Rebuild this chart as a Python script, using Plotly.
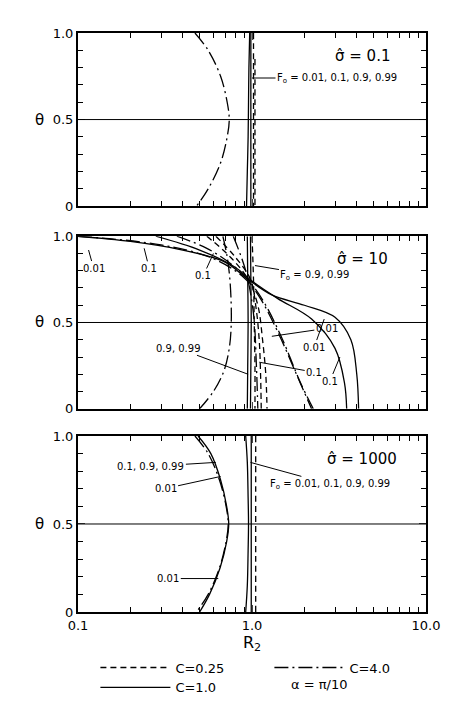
import plotly.graph_objects as go
import math

# ---- data (R2, theta) ----
# panel 1: sigma=0.1
p1_c4_r = [0.47, 0.56, 0.66, 0.72, 0.74, 0.72, 0.66, 0.56, 0.48]
p1_c4_t = [1.0, 0.9, 0.75, 0.6, 0.5, 0.4, 0.25, 0.1, 0.0]
p1_c1a_r = [0.97, 0.96, 0.955, 0.95, 0.94, 0.93]
p1_c1a_t = [1.0, 0.8, 0.6, 0.4, 0.2, 0.0]
p1_c1b_r = [0.985, 0.985, 0.985, 0.985]
p1_c1b_t = [1.0, 0.7, 0.3, 0.0]
p1_c025_r = [1.02, 1.02, 1.02, 1.02]
p1_c025_t = [1.0, 0.7, 0.3, 0.0]
p1_c025b_r = [1.04, 1.04, 1.04]
p1_c025b_t = [0.85, 0.4, 0.0]

# panel 2: sigma=10
p2_c4arc_r = [0.68, 0.72, 0.75, 0.76, 0.74, 0.69, 0.6, 0.5]
p2_c4arc_t = [1.0, 0.88, 0.72, 0.5, 0.35, 0.22, 0.1, 0.0]
p2_s001_r = [0.1, 0.2, 0.4, 0.7, 0.95, 1.3, 2.0, 3.0, 3.7, 4.0, 4.1]
p2_s001_t = [1.0, 0.97, 0.92, 0.85, 0.75, 0.66, 0.6, 0.53, 0.4, 0.2, 0.0]
p2_s01_r = [0.28, 0.5, 0.8, 1.0, 1.4, 2.2, 3.0, 3.4, 3.5]
p2_s01_t = [1.0, 0.92, 0.82, 0.74, 0.64, 0.52, 0.35, 0.15, 0.0]
p2_d001_r = [0.1, 0.3, 0.6, 0.9, 1.1, 1.4, 1.8, 2.2]
p2_d001_t = [1.0, 0.95, 0.87, 0.76, 0.65, 0.45, 0.2, 0.0]
p2_d01_r = [0.37, 0.55, 0.8, 1.0, 1.2, 1.5, 1.9, 2.25]
p2_d01_t = [1.0, 0.93, 0.82, 0.72, 0.6, 0.4, 0.15, 0.0]
p2_q001_r = [0.55, 0.75, 0.95, 1.08, 1.15, 1.2, 1.22]
p2_q001_t = [1.0, 0.88, 0.75, 0.6, 0.4, 0.2, 0.0]
p2_q01_r = [0.62, 0.8, 0.98, 1.05, 1.1, 1.12, 1.13]
p2_q01_t = [1.0, 0.88, 0.75, 0.6, 0.4, 0.2, 0.0]
p2_s09_r = [0.94, 0.945, 0.95, 0.945, 0.94]
p2_s09_t = [1.0, 0.75, 0.5, 0.25, 0.0]
p2_s099_r = [0.98, 0.985, 0.99, 0.985, 0.98]
p2_s099_t = [1.0, 0.75, 0.5, 0.25, 0.0]
p2_q09_r = [1.0, 1.02, 1.03, 1.04, 1.04]
p2_q09_t = [1.0, 0.75, 0.5, 0.25, 0.0]
p2_c409_r = [0.78, 0.92, 1.02, 1.06, 1.08]
p2_c409_t = [1.0, 0.8, 0.55, 0.25, 0.0]

# panel 3: sigma=1000
p3_c4_r = [0.47, 0.56, 0.65, 0.71, 0.73, 0.71, 0.65, 0.56, 0.48]
p3_c4_t = [1.0, 0.9, 0.75, 0.6, 0.5, 0.4, 0.25, 0.1, 0.0]
p3_c4b_r = [0.49, 0.58, 0.66, 0.715, 0.735, 0.715, 0.655, 0.57, 0.5]
p3_c4b_t = [1.0, 0.9, 0.75, 0.6, 0.5, 0.4, 0.25, 0.1, 0.0]
p3_s1_r = [0.92, 0.94, 0.95, 0.955, 0.95, 0.94, 0.92]
p3_s1_t = [1.0, 0.85, 0.65, 0.5, 0.35, 0.15, 0.0]
p3_s2_r = [0.99, 0.99, 0.99, 0.99]
p3_s2_t = [1.0, 0.7, 0.3, 0.0]
p3_q_r = [1.05, 1.05, 1.05, 1.05]
p3_q_t = [1.0, 0.7, 0.3, 0.0]

xticks = [0.1, 1.0, 10.0]
xticklabels = ["0.1", "1.0", "10.0"]
yticks = [0, 0.5, 1.0]
yticklabels = ["0", "0.5", "1.0"]

SOLID, DASH, DASHDOT = "solid", "6px,4px", "14px,4px,2px,4px"
fig = go.Figure()
shown = set()
RANK = {"C=0.25": 1, "C=4.0": 2, "C=1.0": 3}

def add(r, t, style, name, ax):
    sl = name not in shown
    shown.add(name)
    s = "" if ax == 1 else str(ax)
    fig.add_trace(go.Scatter(x=r, y=t, mode="lines", line=dict(color="black", width=1.3, dash=style, shape="spline"),
                             name=name, showlegend=sl, legendrank=RANK[name], xaxis="x" + s, yaxis="y" + s))

add(p1_c025_r, p1_c025_t, DASH, "C=0.25", 1)
add(p1_c4_r, p1_c4_t, DASHDOT, "C=4.0", 1)
add(p1_c1a_r, p1_c1a_t, SOLID, "C=1.0", 1)
add(p1_c1b_r, p1_c1b_t, SOLID, "C=1.0", 1)
add(p1_c025b_r, p1_c025b_t, DASH, "C=0.25", 1)

add(p2_c4arc_r, p2_c4arc_t, DASHDOT, "C=4.0", 2)
add(p2_s001_r, p2_s001_t, SOLID, "C=1.0", 2)
add(p2_s01_r, p2_s01_t, SOLID, "C=1.0", 2)
add(p2_d001_r, p2_d001_t, DASHDOT, "C=4.0", 2)
add(p2_d01_r, p2_d01_t, DASHDOT, "C=4.0", 2)
add(p2_q001_r, p2_q001_t, DASH, "C=0.25", 2)
add(p2_q01_r, p2_q01_t, DASH, "C=0.25", 2)
add(p2_s09_r, p2_s09_t, SOLID, "C=1.0", 2)
add(p2_s099_r, p2_s099_t, SOLID, "C=1.0", 2)
add(p2_q09_r, p2_q09_t, DASH, "C=0.25", 2)
add(p2_c409_r, p2_c409_t, DASHDOT, "C=4.0", 2)

add(p3_c4_r, p3_c4_t, DASHDOT, "C=4.0", 3)
add(p3_c4b_r, p3_c4b_t, SOLID, "C=1.0", 3)
add(p3_s1_r, p3_s1_t, SOLID, "C=1.0", 3)
add(p3_s2_r, p3_s2_t, SOLID, "C=1.0", 3)
add(p3_q_r, p3_q_t, DASH, "C=0.25", 3)

domains = {1: [0.701, 1.0], 2: [0.351, 0.649], 3: [0.0, 0.304]}
font = dict(family="DejaVu Sans", size=13, color="black")
lay = dict(width=474, height=708, margin=dict(l=70, r=56, t=25, b=104), plot_bgcolor="white",
           paper_bgcolor="white", font=font, shapes=[])
for i in (1, 2, 3):
    s = "" if i == 1 else str(i)
    lay["xaxis" + s] = dict(type="log", range=[-1, 1], domain=[0, 1], anchor="y" + s,
                            tickvals=xticks, ticktext=xticklabels if i == 3 else ["", "", ""],
                            ticks="inside", ticklen=7, mirror="allticks", showline=True, linecolor="black",
                            linewidth=2, showgrid=False, zeroline=False,
                            minor=dict(ticks="inside", ticklen=5, dtick="D1", tickcolor="black", showgrid=False))
    lay["yaxis" + s] = dict(range=[0, 1], domain=domains[i], anchor="x" + s, tickvals=yticks, ticktext=yticklabels,
                            ticks="inside", ticklen=7, mirror="allticks", showline=True, linecolor="black",
                            linewidth=2, showgrid=False, zeroline=False,
                            minor=dict(ticks="inside", ticklen=5, dtick=0.1, tickcolor="black", showgrid=False))
    lay["shapes"].append(dict(type="line", xref="x" + s + " domain", yref="y" + s, x0=0, x1=1,
                              y0=0.5, y1=0.5, line=dict(color="black", width=1)))
lay["xaxis3"]["title"] = dict(text="R<sub>2</sub>", standoff=2)
lay["legend"] = dict(orientation="h", x=0.05, y=-0.07, yanchor="top", entrywidth=0.5, entrywidthmode="fraction",
                     font=dict(size=13), itemwidth=70, traceorder="normal")
fig.update_layout(**lay)

def ann(text, x, y, ax_i, axx=None, axy=None, size=10):
    s = "" if ax_i == 1 else str(ax_i)
    d = dict(text=text, x=math.log10(x), y=y, xref="x" + s, yref="y" + s, font=dict(size=size), showarrow=False)
    if axx is not None:
        d.update(showarrow=True, arrowhead=0, arrowwidth=1, arrowcolor="black", ax=axx, ay=axy)
    fig.add_annotation(**d)

for i, lbl in ((1, "σ̂ = 0.1"), (2, "σ̂ = 10"), (3, "σ̂ = 1000")):
    ann(lbl, 4.3, 0.87, i, size=15)
ann("F<sub>o</sub> = 0.01, 0.1, 0.9, 0.99", 1.0, 0.74, 1, 85, 0)
ann("F<sub>o</sub> = 0.9, 0.99", 1.04, 0.83, 2, 60, 10)
ann("0.01", 0.115, 0.92, 2, 5, 18)
ann("0.1", 0.24, 0.93, 2, 5, 20)
ann("0.1", 0.6, 0.9, 2, -10, 22)
ann("0.01", 1.3, 0.42, 2, 55, -8)
ann("0.01", 2.6, 0.52, 2, -10, 28)
ann("0.1", 1.1, 0.27, 2, 55, 10)
ann("0.1", 3.2, 0.3, 2, -10, 24)
ann("0.9, 0.99", 0.95, 0.2, 2, -70, -26)
ann("0.1, 0.9, 0.99", 0.62, 0.85, 3, -65, 4)
ann("0.01", 0.66, 0.77, 3, -55, 12)
ann("0.01", 0.64, 0.19, 3, -50, 0)
ann("F<sub>o</sub> = 0.01, 0.1, 0.9, 0.99", 0.98, 0.85, 3, 80, 22)
for i in (1, 2, 3):
    s = "" if i == 1 else str(i)
    fig.add_annotation(text="θ", xref="paper", yref="y" + s, x=-0.13, y=0.5, showarrow=False, font=dict(size=15))
fig.add_annotation(text="α = π/10", xref="paper", yref="paper", x=0.78, y=-0.108, yanchor="top", showarrow=False,
                   font=dict(size=13))
fig.add_shape(type="circle", xref="x3", yref="y3", x0=-0.22, x1=-0.15, y0=0.86, y1=0.95, line=dict(color="black", width=1))
fig.add_shape(type="circle", xref="x3", yref="y3", x0=-0.22, x1=-0.15, y0=0.1, y1=0.19, line=dict(color="black", width=1))
fig.write_html("out.html")
